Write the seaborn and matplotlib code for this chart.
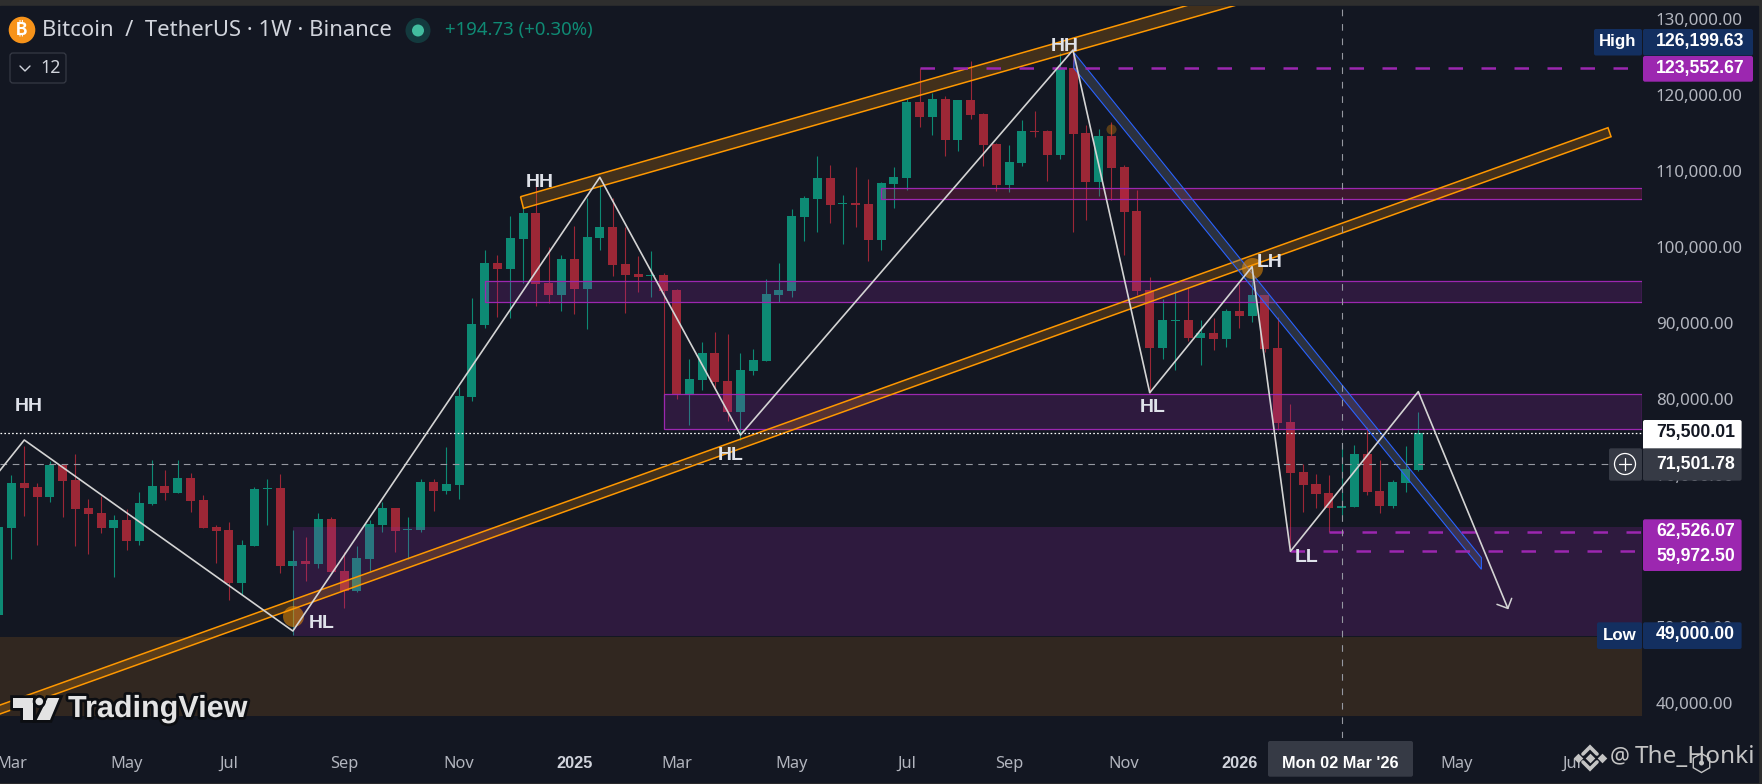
import pandas as pd
import seaborn as sns
import matplotlib.pyplot as plt
import matplotlib.dates as mdates
import matplotlib.patheffects as pe
from matplotlib.patches import Polygon, Rectangle, FancyBboxPatch, Circle, RegularPolygon
from matplotlib.ticker import FuncFormatter

# weekly BTCUSDT candles, first one is the week of 26 Feb 2024
first_week = '2024-02-26'
opens = [51581, 63078, 68957, 68431, 67114, 71327, 69352, 65666, 65008, 63034, 64087, 61322, 66193, 68563, 67641, 69616,
         66720, 63165, 62770, 55793, 60664, 68168, 68299, 58031, 58690, 58295, 64219, 57373, 54740, 58953, 63429, 65666,
         62770, 62770, 69089, 67904, 68694, 80319, 89753, 97915, 97125, 101074, 104497, 95282, 93702, 98441, 94492, 101206,
         102654, 97783, 96466, 96159, 96335, 94361, 80673, 82514, 86068, 82382, 78304, 83698, 85013, 93702, 94229, 103970,
         106339, 109104, 105682, 105814, 105682, 100942, 108314, 109104, 119109, 117134, 119504, 114106, 119372, 117529, 113580, 108183,
         111079, 115291, 115291, 112132, 123584, 115028, 108578, 114633, 110552, 104760, 94361, 86725, 90279, 90411, 88041, 88700,
         87910, 91596, 90938, 93702, 86725, 76988, 70406, 68826, 67641, 65710, 65798, 72775, 67904, 65930, 68957, 70669]
highs = [64000, 70011, 73828, 68914, 71854, 71327, 72775, 66851, 67246, 64745, 65535, 67773, 71985, 70669, 71985, 70274,
         67378, 63429, 63824, 61454, 68431, 69484, 70142, 62770, 61849, 65008, 64482, 59874, 60664, 64087, 66456, 65666,
         64482, 69484, 69484, 73697, 81639, 93263, 99626, 98968, 104101, 105418, 108490, 99977, 98968, 102785, 106427, 108183,
         106427, 102697, 98836, 99495, 96554, 94492, 85278, 87515, 88831, 88568, 86068, 86594, 95808, 97915, 105024, 106734,
         111999, 110815, 106866, 110552, 108972, 108577, 110552, 119504, 123541, 120293, 119898, 119372, 124506, 117660, 113668, 113448,
         116739, 117924, 115423, 125515, 126199.63, 116081, 115555, 116476, 110815, 107524, 96072, 93176, 94229, 94712, 90411, 90674,
         91859, 95150, 97432, 93702, 90850, 79357, 71459, 70142, 70011, 74091, 73960, 76373, 71985, 69352, 73828, 78304]
lows = [50900, 58953, 64613, 60796, 66456, 64482, 60664, 59611, 62376, 56583, 60138, 60796, 66061, 66720, 67641, 65140,
        63034, 58426, 53556, 54214, 60664, 63429, 57110, 48948, 56057, 57768, 57242, 52502, 54609, 57373, 62507, 59874,
        58953, 62507, 65272, 67510, 66851, 79800, 89314, 90850, 90631, 95238, 92255, 92605, 91596, 91200, 89226, 99626,
        96204, 91376, 94097, 93483, 78500, 80015, 76593, 81197, 81197, 77119, 74618, 83171, 85013, 92781, 93439, 100811,
        101996, 103180, 100416, 102653, 98178, 99626, 105155, 107524, 115818, 114765, 111999, 112658, 116871, 110684, 107393, 107261,
        110684, 114501, 108709, 111605, 101996, 103575, 106734, 106208, 98968, 93702, 80845, 85278, 83829, 87692, 84487, 86462,
        86857, 89314, 90148, 86154, 75934, 59972.5, 65140, 65666, 62526.07, 64745, 65798, 67378, 65008, 65666, 67773, 70537]
closes = [63165, 68957, 68343, 67114, 71327, 69221, 65535, 64877, 63034, 64087, 61322, 66325, 68563, 67641, 69616, 66588,
          63034, 62639, 55793, 60796, 68168, 68299, 58031, 58690, 58295, 64219, 57242, 54740, 59084, 63560, 65666, 62639,
          62902, 69089, 67904, 68826, 80410, 89885, 97915, 97125, 101206, 104497, 95150, 93702, 98441, 94492, 101337, 102654,
          97651, 96335, 96071, 96335, 94229, 80669, 82644, 86068, 82250, 78304, 83829, 85145, 93834, 94361, 104102, 106471,
          109104, 105550, 105857, 105550, 100942, 108446, 109236, 119109, 117134, 119504, 114106, 119372, 117397, 113448, 108183, 111210,
          115291, 115116, 112132, 123584, 114896, 108578, 114633, 110421, 104629, 94229, 86725, 90411, 90411, 88041, 88700, 87910,
          91596, 90938, 93702, 86594, 76856, 70274, 68694, 67509, 65666, 65930, 72775, 67773, 65930, 69089, 70801, 75500.01]

# swing line, in week numbers counted from first_week
swing_weeks = [-2, 2, 23, 47, 58, 84, 90, 98, 101, 111, 118]
swing_prices = [66200, 74618, 49475, 109200, 75276, 125954, 80845, 97432, 59962, 80981, 52459]
arrow_weeks = [117.15, 118, 118.3]
arrow_prices = [52985, 52459, 53775]

swing_labels = ['HH', 'HL', 'HH', 'HL', 'HH', 'HL', 'LH', 'LL']
label_weeks = [2.35, 25.24, 42.3, 57.25, 83.38, 90.26, 99.36, 102.3]
label_prices = [79001, 50530, 108448, 72644, 126388, 78831, 98008, 59087]

dot_weeks = [23, 87, 98]
dot_prices = [51450, 115555, 97250]
dot_sizes = [229, 52, 229]
dot_alphas = [0.5, 0.3, 0.5]

# channels: start corner upper/lower, end corner upper/lower as (week, price)
top_channel = [(40.8, 106644), (95.5, 133062), (99.4, 133128), (41.03, 105117)]
low_channel = [(-2, 38460), (125.83, 115727), (126.07, 114543), (-2, 37288)]
down_channel = [(84.12, 125521), (115.93, 59126), (115.93, 57599), (84.06, 123585)]

# zones: start week, top, bottom
zone_starts = [69, 38, 52, 23, -2]
zone_tops = [107744, 95500, 80627, 63210, 48730]
zone_bottoms = [106296, 92737, 76022, 48816, 38285]

level_prices = [123552.67, 62526.07, 59972.50]
level_starts = [72, 104, 101]
last_price = 75500.01
cross_price = 71501.78
cross_week = 105

# 60,000 never shows in the reference, the purple tags sit on it
y_ticks = [130000, 120000, 110000, 100000, 90000, 80000, 70000, 50000, 40000]
x_tick_dates = ['2024-03-04', '2024-05-06', '2024-07-01', '2024-09-02', '2024-11-04', '2025-01-06', '2025-03-03',
                '2025-05-05', '2025-07-07', '2025-09-01', '2025-11-03', '2026-01-05', '2026-05-04', '2026-07-06']
x_tick_labels = ['Mar', 'May', 'Jul', 'Sep', 'Nov', '2025', 'Mar', 'May', 'Jul', 'Sep', 'Nov', '2026', 'May', 'Jul']

BG = '#131722'
UP = '#0d8a74'
DOWN = '#9c2736'
PURPLE = '#9c27b0'
ORANGE = '#ff9800'
AXIS_TEXT = '#b2b5be'
NAVY = '#132f60'
GREY_TAG = '#363a45'
BOLD_FONT = 'Liberation Sans'  # Noto Sans here has no real bold cut

sns.set_theme(style='dark', rc={'axes.facecolor': BG, 'figure.facecolor': '#2e2e2e', 'axes.grid': False})
plt.rcParams['font.family'] = ['Noto Sans', 'DejaVu Sans']


def week_num(w):
    return mdates.date2num(pd.Timestamp(first_week)) + 7 * w


df = pd.DataFrame({'open': opens, 'high': highs, 'low': lows, 'close': closes})
df['week'] = week_num(df.index.to_numpy())
df['colour'] = [UP if c >= o else DOWN for o, c in zip(df['open'], df['close'])]

fig = plt.figure(figsize=(17.62, 7.84), dpi=100)
fig.add_artist(Rectangle((0, 2 / 784), 1758 / 1762, 776 / 784, transform=fig.transFigure, color=BG, zorder=-1))
ax = fig.add_axes([0, 46 / 784, 1642 / 1762, 732 / 784])

# candles
ax.vlines(df['week'], df['low'], df['high'], colors=df['colour'], lw=0.8, zorder=2)
ax.bar(df['week'], (df['close'] - df['open']).abs(), bottom=df[['open', 'close']].min(axis=1),
       width=4.93, color=df['colour'], linewidth=0, zorder=3)

# zones sit over the candles
x_left, x_right = week_num(0.1009), week_num(128.49)
for n in range(len(zone_starts)):
    fill = PURPLE
    if n == 0:
        fill = '#e91e63'
    if n == 4:
        fill = '#ff9a13'
    alpha = 0.13 if n == 4 else 0.2
    left = week_num(zone_starts[n])
    ax.add_patch(Rectangle((left, zone_bottoms[n]), x_right - left, zone_tops[n] - zone_bottoms[n],
                           facecolor=fill, alpha=alpha, linewidth=0, zorder=4))
    if n < 3:
        ax.add_patch(Rectangle((left, zone_bottoms[n]), x_right - left, zone_tops[n] - zone_bottoms[n],
                               facecolor='none', edgecolor=PURPLE, lw=0.9, zorder=4))

# channels
for corners, face, edge, lw, a in [(top_channel, ORANGE, ORANGE, 1.1, 0.2), (low_channel, ORANGE, ORANGE, 1.1, 0.2),
                                   (down_channel, '#5a6478', '#2962ff', 0.8, 0.35)]:
    pts = [(week_num(w), p) for w, p in corners]
    ax.add_patch(Polygon(pts, closed=True, facecolor=face, alpha=a, linewidth=0, zorder=5))
    ax.add_patch(Polygon(pts, closed=True, facecolor='none', edgecolor=edge, lw=lw, zorder=5))

# levels
for price, start in zip(level_prices, level_starts):
    ax.hlines(price, week_num(start), x_right, colors=PURPLE, lw=1.8, linestyles=(0, (5.8, 7.4)), zorder=5)
ax.axhline(last_price, color='white', lw=0.9, linestyle=(0, (1.3, 1.8)), zorder=6)
ax.axhline(cross_price, color='#9598a1', lw=0.8, linestyle=(0, (6, 5)), zorder=6)
ax.axvline(week_num(cross_week), color='#9598a1', lw=0.8, linestyle=(0, (6, 7)), zorder=6)

# swing line and markers
swing = pd.DataFrame({'week': week_num(pd.Series(swing_weeks)), 'price': swing_prices})
sns.lineplot(data=swing, x='week', y='price', estimator=None, sort=False, color='#d4d4d4', lw=1.2, ax=ax, zorder=7)
arrow = pd.DataFrame({'week': week_num(pd.Series(arrow_weeks)), 'price': arrow_prices})
sns.lineplot(data=arrow, x='week', y='price', estimator=None, sort=False, color='#d4d4d4', lw=1.1, ax=ax, zorder=7)
for w, p, s, a in zip(dot_weeks, dot_prices, dot_sizes, dot_alphas):
    sns.scatterplot(x=[week_num(w)], y=[p], s=s, color=ORANGE, alpha=a, linewidth=0, ax=ax, zorder=6, legend=False)

for lab, w, p in zip(swing_labels, label_weeks, label_prices):
    ax.text(week_num(w), p, lab, color='#dfe2ea', fontsize=14, family=BOLD_FONT, fontweight='bold',
            ha='center', va='center', zorder=8)

ax.set_xlim(x_left, x_right)
ax.set_ylim(35393, 131746)
ax.set_xlabel('')
ax.set_ylabel('')
ax.set_xticks([mdates.date2num(pd.Timestamp(d)) for d in x_tick_dates])
ax.set_xticklabels(x_tick_labels)
ax.set_yticks(y_ticks)
ax.yaxis.set_major_formatter(FuncFormatter(lambda v, pos: f'{v:,.2f}'))
ax.yaxis.tick_right()
ax.tick_params(axis='x', length=0, pad=13, labelsize=11.8, labelcolor=AXIS_TEXT)
ax.tick_params(axis='y', length=0, pad=10, labelsize=12.2, labelcolor=AXIS_TEXT)
for t in ax.get_xticklabels():
    if t.get_text() in ('2025', '2026'):
        t.set_color('#d1d4dc')
        t.set_family(BOLD_FONT)
        t.set_fontweight('bold')
for s in ax.spines.values():
    s.set_visible(False)

# everything TradingView paints around the chart goes on a pixel overlay
ov = fig.add_axes([0, 0, 1, 1], facecolor='none')
ov.set_xlim(0, 1762)
ov.set_ylim(784, 0)
ov.axis('off')


def tag(x0, x1, y0, y1, colour):
    ov.add_patch(FancyBboxPatch((x0 + 1, y0 + 1), x1 - x0 - 2, y1 - y0 - 2, boxstyle='round,pad=1,rounding_size=2',
                                facecolor=colour, edgecolor='none', zorder=3))


def label(x, y, s, colour='white', size=12.7, ha='left', weight='bold'):
    family = BOLD_FONT if weight == 'bold' else 'Noto Sans'
    return ov.text(x, y, s, color=colour, fontsize=size, ha=ha, va='center', fontweight=weight, family=family, zorder=4)


tag(1594, 1642, 29, 55.5, NAVY)
tag(1643, 1753, 29, 55.5, NAVY)
label(1618, 41.7, 'High', ha='center', size=12.2)
label(1656, 41.7, '126,199.63')
tag(1643, 1753, 56, 81.7, PURPLE)
label(1656, 68.3, '123,552.67')
tag(1643, 1741.6, 420, 449.3, 'white')
label(1656, 432.7, '75,500.01', colour='#131722')
tag(1643, 1741.6, 448.3, 480.7, GREY_TAG)
tag(1609, 1642, 448.3, 480.7, GREY_TAG)
label(1656, 464, '71,501.78')
ov.add_patch(Circle((1625, 464), 10.5, facecolor='none', edgecolor='white', lw=0.9, zorder=4))
ov.plot([1619, 1631], [464, 464], color='white', lw=0.9, zorder=4)
ov.plot([1625, 1625], [458, 470], color='white', lw=0.9, zorder=4)
tag(1643, 1741.6, 519.3, 571, PURPLE)
label(1656, 531.7, '62,526.07')
label(1656, 556.7, '59,972.50')
tag(1597, 1642, 622.3, 649, NAVY)
tag(1643, 1741.6, 622.3, 649, NAVY)
label(1619.5, 635, 'Low', ha='center', size=12.2)
label(1656, 635, '49,000.00')
tag(1268, 1413, 741, 776.7, GREY_TAG)
label(1340.5, 763, "Mon 02 Mar '26", size=11.8, ha='center')

# header
ov.add_patch(Circle((22, 30), 13.3, facecolor='#f7931a', edgecolor='none'))
ov.text(22, 30, '\u20bf', color='white', fontsize=12.5, fontweight='bold', ha='center', va='center',
        family=['Inter', 'Roboto', 'Lato', 'Open Sans', 'Noto Sans', 'Liberation Sans', 'DejaVu Sans'])
label(42, 30, 'Bitcoin  /  TetherUS · 1W · Binance', colour='#d1d4dc', size=15.9, weight='normal')
ov.add_patch(Circle((418, 30.5), 12.5, facecolor='#134a4a', edgecolor='none', alpha=0.7))
ov.add_patch(Circle((418, 30.5), 6, facecolor='#42bd9f', edgecolor='none'))
label(444.7, 30, '+194.73 (+0.30%)', colour='#0f8a74', size=13.4, weight='normal')
ov.add_patch(FancyBboxPatch((11, 54), 54, 28, boxstyle='round,pad=1,rounding_size=3', facecolor='none',
                            edgecolor=GREY_TAG, lw=0.9))
ov.plot([20, 25, 30], [66, 71, 66], color='#d1d4dc', lw=1)
label(40, 68, '12', colour='#d1d4dc', size=12.8, weight='normal')

# TradingView logo
halo = [pe.withStroke(linewidth=4, foreground='#0c0e12')]
logo_col = '#e3e3e3'
for poly in ([(13.3, 698), (33, 698), (33, 720), (22.7, 720), (22.7, 708), (13.3, 708)],
             [(47.7, 698), (59.3, 698), (50, 720), (36.7, 720)]):
    ov.add_patch(Polygon(poly, closed=True, facecolor=logo_col, edgecolor='none', path_effects=halo, zorder=4))
ov.add_patch(Circle((39.3, 701.5), 3.8, facecolor=logo_col, edgecolor='none', path_effects=halo, zorder=4))
t = label(68, 709, 'TradingView', colour=logo_col, size=22)
t.set_path_effects(halo)

# watermark over the axis
wm = '#c4c4c4'
for xs, ys in ([(1583, 1590, 1597), (754, 747, 754)], [(1583, 1590, 1597), (762, 769, 762)]):
    ov.plot(xs, ys, color=wm, lw=2.6, solid_joinstyle='miter', zorder=5)
ov.scatter([1578, 1590, 1602], [758, 758, 758], marker='D', s=24, color=wm, linewidth=0, zorder=5)
ov.text(1610, 757, '@', color=wm, fontsize=16, ha='left', va='center', zorder=5)
ov.text(1635, 757, 'The_Honki', color=wm, fontsize=17.5, ha='left', va='center', zorder=5)
ov.add_patch(RegularPolygon((1701.5, 763), 6, radius=9.5, facecolor='none', edgecolor=wm, lw=1, zorder=5))
ov.add_patch(Circle((1701.5, 763), 2.5, facecolor=wm, edgecolor='none', zorder=5))

fig.savefig('out.png', dpi=100)
